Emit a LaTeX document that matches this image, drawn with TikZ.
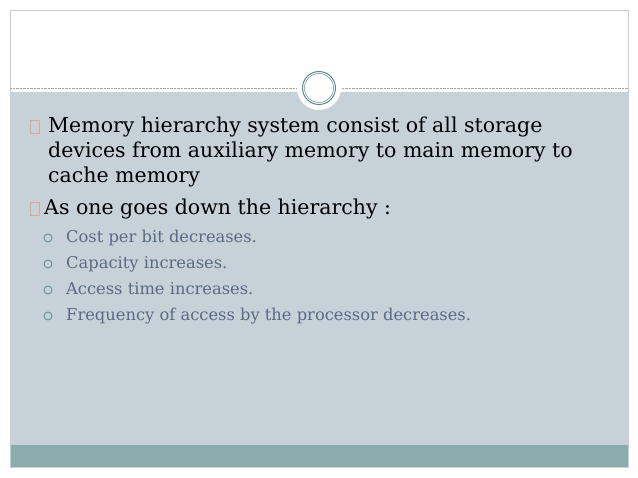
\documentclass[tikz,border=0pt]{standalone}
\usepackage{fontspec}
\setmainfont{DejaVu Serif}
\definecolor{bodybg}{HTML}{C6D1D8}
\definecolor{barc}{HTML}{8AACAD}
\definecolor{subc}{HTML}{5A6A84}
\definecolor{ringc}{HTML}{5E8A8C}
\definecolor{sqc}{HTML}{D9A89A}
\begin{document}
\begin{tikzpicture}[x=1pt,y=-1pt,
  main/.style={anchor=base west,inner sep=0pt,font=\fontsize{20.5}{24}\selectfont},
  sub/.style={anchor=base west,inner sep=0pt,font=\fontsize{16.3}{18}\selectfont,text=subc},
  sq/.style={draw=sqc,line width=0.5pt,minimum width=9pt,minimum height=13pt,inner sep=0pt,anchor=south west},
  circ/.style={draw=ringc,circle,line width=0.8pt,minimum size=8pt,inner sep=0pt}]
\useasboundingbox (0,0) rectangle (638,478);
\fill[white] (0,0) rectangle (638,478);
\fill[bodybg] (10,92) rectangle (628,445);
\fill[barc] (10,445) rectangle (628,467);
\draw[gray!40,line width=0.5pt] (10,10) rectangle (628,467);
\draw[densely dotted,gray!70,line width=0.4pt] (10,88) -- (628,88);
\fill[white] (319,88) circle (22);
\node[circle,draw=ringc,line width=1pt,minimum size=33pt,inner sep=0pt] (ring) at (319,88) {};
\node[circle,draw=ringc,line width=0.5pt,minimum size=29pt,inner sep=0pt] (ringin) at (319,88) {};
\node[sq] (b1) at (30,134) {};
\node[main] (t1) at (48,133) {Memory hierarchy system consist of all storage};
\node[main] (t2) at (48,158) {devices from auxiliary memory to main memory to};
\node[main] (t3) at (48,183) {cache memory};
\node[sq] (b2) at (30,216) {};
\node[main] (t4) at (44,215) {As one goes down the hierarchy :};
\node[circ] (c1) at (48,238) {};
\node[sub] (s1) at (66,243) {Cost per bit decreases.};
\node[circ] (c2) at (48,264) {};
\node[sub] (s2) at (66,269) {Capacity increases.};
\node[circ] (c3) at (48,290) {};
\node[sub] (s3) at (66,295) {Access time increases.};
\node[circ] (c4) at (48,316) {};
\node[sub] (s4) at (66,321) {Frequency of access by the processor decreases.};
\end{tikzpicture}
\end{document}
